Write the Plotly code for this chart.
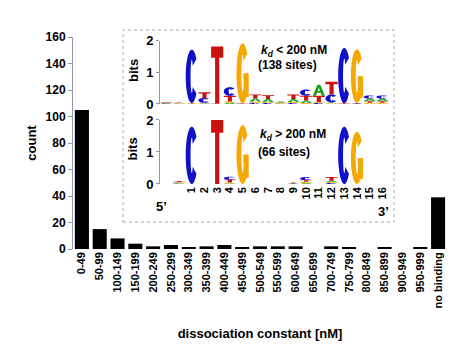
import numpy as np
import plotly.graph_objects as go

# ---- histogram of dissociation constants ----
bins = ["0-49", "50-99", "100-149", "150-199", "200-249", "250-299", "300-349",
        "350-399", "400-449", "450-499", "500-549", "550-599", "600-649",
        "650-699", "700-749", "750-799", "800-849", "850-899", "900-949",
        "950-999", "no binding"]
counts = [105, 15, 8, 4, 2, 3, 1, 2, 3, 1, 2, 2, 2, 0, 2, 1, 0, 1, 0, 1, 39]

# ---- sequence logos (bits per base at each position) ----
logo_pos = list(range(-1, 17))
# Kd < 200 nM (138 sites)
hi_A = [0.015, 0.015, 0.01, 0.02, 0.00, 0.04, 0.00, 0.10, 0.10, 0.03, 0.10, 0.08, 0.35, 0.03, 0.00, 0.01, 0.08, 0.08]
hi_C = [0.015, 0.010, 1.69, 0.15, 0.01, 0.27, 0.01, 0.04, 0.03, 0.01, 0.03, 0.20, 0.03, 0.25, 1.75, 0.01, 0.10, 0.10]
hi_G = [0.015, 0.015, 0.01, 0.02, 0.00, 0.04, 1.90, 0.04, 0.03, 0.02, 0.03, 0.03, 0.03, 0.02, 0.01, 1.70, 0.04, 0.04]
hi_T = [0.015, 0.015, 0.01, 0.18, 1.81, 0.18, 0.01, 0.12, 0.12, 0.02, 0.14, 0.15, 0.20, 0.40, 0.01, 0.01, 0.05, 0.05]
# Kd > 200 nM (66 sites)
lo_A = [0.00, 0.02, 0.00, 0.00, 0.00, 0.02, 0.00, 0.00, 0.00, 0.00, 0.01, 0.03, 0.00, 0.04, 0.00, 0.00, 0.00, 0.00]
lo_C = [0.00, 0.02, 1.79, 0.00, 0.00, 0.10, 0.00, 0.00, 0.00, 0.00, 0.01, 0.10, 0.00, 0.03, 1.79, 0.00, 0.00, 0.00]
lo_G = [0.00, 0.02, 0.00, 0.00, 0.00, 0.03, 1.84, 0.00, 0.00, 0.00, 0.01, 0.04, 0.00, 0.03, 0.00, 1.63, 0.00, 0.00]
lo_T = [0.00, 0.03, 0.00, 0.00, 2.00, 0.08, 0.00, 0.00, 0.00, 0.00, 0.02, 0.05, 0.00, 0.12, 0.00, 0.00, 0.00, 0.00]
position_labels = [str(i) for i in range(1, 17)]

BASE_COLORS = {"A": "#1aa31a", "C": "#1010cc", "G": "#f7a800", "T": "#cc1010"}
FONT = "Arial, Liberation Sans, sans-serif"


def ellipse_arc(a0, a1, rx, ry, n=32):
    t = np.radians(np.linspace(a0, a1, n))
    return [(0.5 + rx * np.cos(a), 0.5 + ry * np.sin(a)) for a in t]


def ring(a0, a1):
    return ellipse_arc(a0, a1, 0.5, 0.5) + ellipse_arc(a1, a0, 0.10, 0.31)


def rect(u0, v0, u1, v1):
    return [(u0, v0), (u1, v0), (u1, v1), (u0, v1)]


# letter outlines in a unit box (u across, v up)
GLYPHS = {
    "C": [ring(40, 320)],
    "G": [ring(40, 352), rect(0.56, 0.37, 1.0, 0.50), rect(0.76, 0.10, 1.0, 0.50)],
    "T": [rect(0.0, 0.80, 1.0, 1.0), rect(0.33, 0.0, 0.67, 0.81)],
    "A": [[(0.0, 0.0), (0.27, 0.0), (0.35, 0.28), (0.65, 0.28), (0.73, 0.0),
           (1.0, 0.0), (0.62, 1.0), (0.38, 1.0)],
          [(0.41, 0.42), (0.50, 0.74), (0.59, 0.42)]],
}


def glyph_path(letter, xc, y0, h, w=0.96):
    x0 = xc - w / 2
    parts = []
    for poly in GLYPHS[letter]:
        pts = [f"{x0 + u * w:.4f},{y0 + v * h:.4f}" for u, v in poly]
        parts.append("M" + " L".join(pts) + " Z")
    return " ".join(parts)


def logo_shapes(cols, xref, yref):
    shapes = []
    for i, p in enumerate(logo_pos):
        stack = sorted(((cols[b][i], b) for b in "ACGT"), key=lambda s: s[0])
        y = 0.0
        for h, b in stack:
            if h <= 0:
                continue
            shapes.append(dict(type="path", xref=xref, yref=yref,
                               path=glyph_path(b, p, y, h),
                               fillcolor=BASE_COLORS[b], fillrule="nonzero",
                               line=dict(width=0)))
            y += h
    return shapes


fig = go.Figure()
fig.add_trace(go.Bar(x=bins, y=counts, marker=dict(color="black", line=dict(width=0)),
                     hoverinfo="skip"))
# anchor traces for the two logo panels
for xa, ya in (("x2", "y2"), ("x3", "y3")):
    fig.add_trace(go.Scatter(x=logo_pos, y=[0] * len(logo_pos), xaxis=xa, yaxis=ya,
                             mode="markers", marker=dict(opacity=0), hoverinfo="skip"))

axis_grey = "#8d9aab"
bold = lambda s: dict(family=FONT, size=s, color="black", weight="bold")

X_LOGO = [0.2326, 0.8476]
logo_y_axis = dict(range=[0, 2], tickvals=[0, 1, 2], showgrid=False, zeroline=False,
                   showline=True, linecolor=axis_grey, linewidth=1, ticks="outside",
                   ticklen=3, tickcolor=axis_grey, tickfont=bold(13), fixedrange=True)

fig.update_layout(
    width=474, height=348,
    margin=dict(l=73, r=27, t=37, b=99, autoexpand=False),
    paper_bgcolor="white", plot_bgcolor="white",
    showlegend=False, bargap=0.21,
    font=dict(family=FONT, color="black"),
    xaxis=dict(range=[-0.5, 20.5], tickangle=-90, tickfont=bold(11), showline=False,
               ticks="", showgrid=False, zeroline=False, automargin=False,
               title=dict(text="dissociation constant [nM]", font=bold(13), standoff=21)),
    yaxis=dict(range=[0, 160], dtick=20, showgrid=False, zeroline=False, showline=True,
               linecolor=axis_grey, linewidth=1, ticks="outside", ticklen=4,
               tickcolor=axis_grey, tickfont=bold(12), automargin=False,
               title=dict(text="count", font=bold(13), standoff=6)),
    xaxis2=dict(domain=X_LOGO, anchor="y2", range=[-1.5, 16.6], visible=False),
    yaxis2=dict(domain=[0.684, 0.9825], anchor="x2", **logo_y_axis),
    xaxis3=dict(domain=X_LOGO, anchor="y3", range=[-1.5, 16.6], tickvals=list(range(1, 17)),
                ticktext=position_labels, tickangle=-90, tickfont=bold(11), ticks="",
                showline=False, showgrid=False, zeroline=False),
    yaxis3=dict(domain=[0.3066, 0.6085], anchor="x3", **logo_y_axis),
)

shapes = [dict(type="rect", xref="paper", yref="paper", x0=0.1337, x1=0.8583,
               y0=0.1274, y1=1.033, layer="below",
               line=dict(color="#a8a8a8", width=1, dash="dot"), fillcolor="white")]
shapes += logo_shapes({"A": hi_A, "C": hi_C, "G": hi_G, "T": hi_T}, "x2", "y2")
shapes += logo_shapes({"A": lo_A, "C": lo_C, "G": lo_G, "T": lo_T}, "x3", "y3")
fig.update_layout(shapes=shapes)

notes = [
    ("<i>k</i><sub><i>d</i></sub> &lt; 200 nM", 0.4973, 0.9330, "left", 0, 12),
    ("(138 sites)", 0.4892, 0.8660, "left", 0, 12),
    ("<i>k</i><sub><i>d</i></sub> &gt; 200 nM", 0.4946, 0.5400, "left", 0, 12),
    ("(66 sites)", 0.4892, 0.4570, "left", 0, 12),
    ("bits", 0.1604, 0.8443, "center", -90, 13),
    ("bits", 0.1604, 0.4741, "center", -90, 13),
    ("5’", 0.2372, 0.1995, "center", 0, 13),
    ("3’", 0.8289, 0.1760, "center", 0, 13),
]
for text, x, y, anchor, angle, size in notes:
    fig.add_annotation(text=text, x=x, y=y, xref="paper", yref="paper",
                       xanchor=anchor, yanchor="middle", textangle=angle,
                       showarrow=False, font=bold(size))

fig.write_html("out.html")
